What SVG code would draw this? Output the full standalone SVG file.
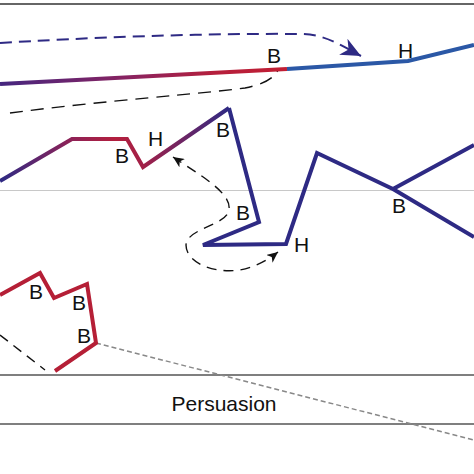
<svg xmlns="http://www.w3.org/2000/svg" width="474" height="474" viewBox="0 0 474 474">
<style>
.lbl{font-family:"Myriad Pro","Liberation Sans",Arial,sans-serif;font-size:21px;fill:#111}
.path{fill:none;stroke-width:4;stroke-linejoin:miter;stroke-linecap:butt}
.navy{stroke:#2e2a84}
.red{stroke:#b51f36}
.blue{stroke:#2b58a6}
.bdash{fill:none;stroke:#111;stroke-width:1.4;stroke-dasharray:10 7}
.rule{stroke:#555;stroke-width:1.6}
</style>
<defs>
<linearGradient id="g1" gradientUnits="userSpaceOnUse" x1="0" y1="0" x2="287" y2="0">
<stop offset="0" stop-color="#45267f"/>
<stop offset="0.45" stop-color="#8a2360"/>
<stop offset="0.75" stop-color="#b51f3c"/>
<stop offset="1" stop-color="#c21e33"/>
</linearGradient>
<linearGradient id="g2" gradientUnits="userSpaceOnUse" x1="0" y1="0" x2="230" y2="0">
<stop offset="0" stop-color="#2e2a84"/>
<stop offset="0.3" stop-color="#8c2258"/>
<stop offset="0.5" stop-color="#b31f3e"/>
<stop offset="0.62" stop-color="#a22048"/>
<stop offset="1" stop-color="#2e2a84"/>
</linearGradient>
<marker id="bigArrow" markerWidth="22" markerHeight="18" refX="20" refY="9" orient="auto" markerUnits="userSpaceOnUse">
<path d="M0,0 L20,9 L0,18 L6,9 Z" fill="#2e2a84"/>
</marker>
<marker id="smallArrow" markerWidth="12" markerHeight="10" refX="11" refY="5" orient="auto-start-reverse" markerUnits="userSpaceOnUse">
<path d="M0,0 L11,5 L0,10 L3,5 Z" fill="#111"/>
</marker>
</defs>

<g id="frame">
<line x1="0" y1="4" x2="474" y2="4" stroke="#666" stroke-width="2"/>
<line x1="0" y1="190.5" x2="474" y2="190.5" stroke="#c8c8c8" stroke-width="1"/>
<line class="rule" x1="0" y1="375" x2="474" y2="375"/>
<line class="rule" x1="0" y1="424" x2="474" y2="424"/>
</g>

<g id="connectors">
<path d="M0,43 C80,38 200,33 300,34 C325,34 340,45 361,56" fill="none" stroke="#2e2a84" stroke-width="2" stroke-dasharray="12 7" marker-end="url(#bigArrow)"/>
<path class="bdash" style="stroke-dasharray:13 8" d="M10,113 C100,101 200,94 245,88 C265,84 274,78 278,70"/>
<path class="bdash" d="M173,157 C200,175 232,193 229,210 C226,226 187,228 186,245 C186,262 212,274 240,270 C255,267 268,260 278,252" marker-start="url(#smallArrow)" marker-end="url(#smallArrow)"/>
<path class="bdash" d="M0,335 L45,370"/>
<line x1="96" y1="343" x2="474" y2="440" stroke="#888" stroke-width="1.5" stroke-dasharray="5 3"/>
</g>

<g id="track1">
<path class="path" d="M0,84 L287,69" stroke="url(#g1)"/>
<path class="path blue" d="M287,69 L408,61 L474,45"/>
<text class="lbl" x="267" y="63">B</text>
<text class="lbl" x="398" y="58">H</text>
</g>

<g id="track2">
<path class="path" d="M0,181 L72,139 L127,139 L143,167 L229,108" stroke="url(#g2)"/>
<path class="path navy" d="M229,108 L259,222 L203,245 L286,244 L317,153 L393,189 L474,145 M393,189 L474,237"/>
<text class="lbl" x="115" y="163">B</text>
<text class="lbl" x="148" y="146">H</text>
<text class="lbl" x="216" y="137">B</text>
<text class="lbl" x="236" y="220">B</text>
<text class="lbl" x="294" y="252">H</text>
<text class="lbl" x="392" y="213">B</text>
</g>

<g id="track3">
<path class="path red" d="M0,295 L40,273 L54,298 L87,284 L96,343 L55,371"/>
<text class="lbl" x="29" y="299">B</text>
<text class="lbl" x="72" y="310">B</text>
<text class="lbl" x="77" y="343">B</text>
</g>

<g id="persuasion">
<text class="lbl" x="224" y="411" text-anchor="middle">Persuasion</text>
</g>
</svg>
